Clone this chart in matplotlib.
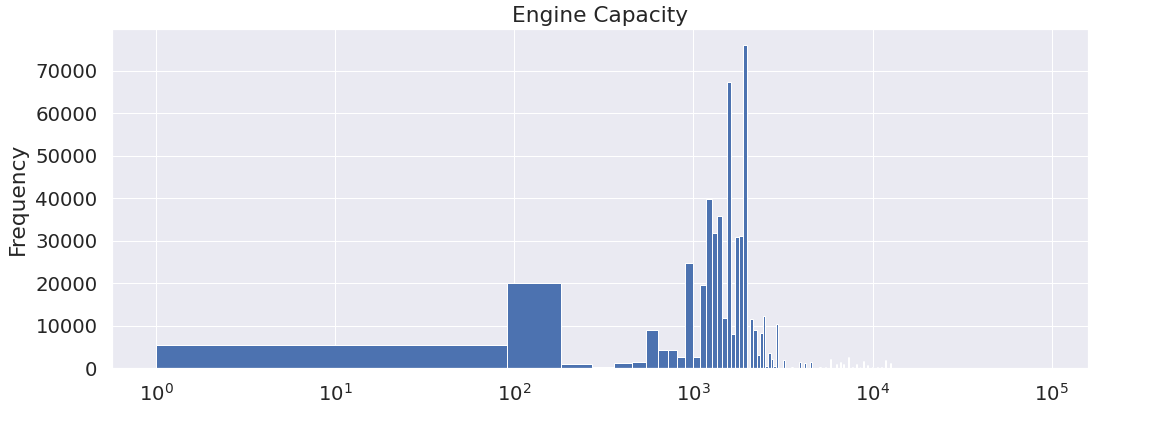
import numpy as np
import matplotlib
matplotlib.use("Agg")
import matplotlib.pyplot as plt
import seaborn as sns

sns.set(font_scale=1.8)

# ----------------------------
# Data (1000 equal-width bins between min and max capacity)
# ----------------------------
capacity_min = 1
capacity_max = 90001
n_bins = 1000

# non-empty bins: bin number and how many cars fall in it
bin_index = [0, 1, 2, 3, 4, 5, 6, 7, 8, 9,
             10, 11, 12, 13, 14, 15, 16, 17, 18, 19,
             20, 21, 23, 24, 25, 26, 27, 28, 29, 30,
             31, 32, 35, 37, 39, 41, 43, 46, 50, 53,
             56, 60, 64, 69, 73, 76, 81, 85, 90, 94,
             98, 104, 111, 118, 124, 131, 139, 150, 999]
bin_count = [5400, 20100, 1000, 300, 1300, 1500, 9100, 4200, 4200, 2700,
             24800, 2700, 19500, 39700, 31800, 35900, 11800, 67400, 8000, 30900,
             31200, 75900, 11500, 8900, 3200, 8400, 12400, 600, 3600, 2100,
             600, 10400, 1900, 150, 200, 100, 1600, 1300, 1600, 150,
             200, 300, 2200, 950, 1400, 1100, 2600, 300, 1100, 300,
             1650, 850, 200, 300, 400, 1950, 1170, 100, 1]

edges = np.linspace(capacity_min, capacity_max, n_bins + 1)
counts = np.zeros(n_bins)
counts[bin_index] = bin_count

# ----------------------------
# Plot
# ----------------------------
fig = plt.figure(figsize=(1163 / 72, 446 / 72), dpi=72)
ax = fig.add_axes([0.0963, 0.1742, 0.839, 0.7601])

ax.hist(edges[:-1], bins=edges, weights=counts)
ax.set_xscale("log")
ax.tick_params(axis="both", which="major", pad=8.5)
ax.set_title("Engine Capacity", pad=7.5)
ax.set_ylabel("Frequency", labelpad=7.5)

fig.savefig("out.png", dpi=72)
